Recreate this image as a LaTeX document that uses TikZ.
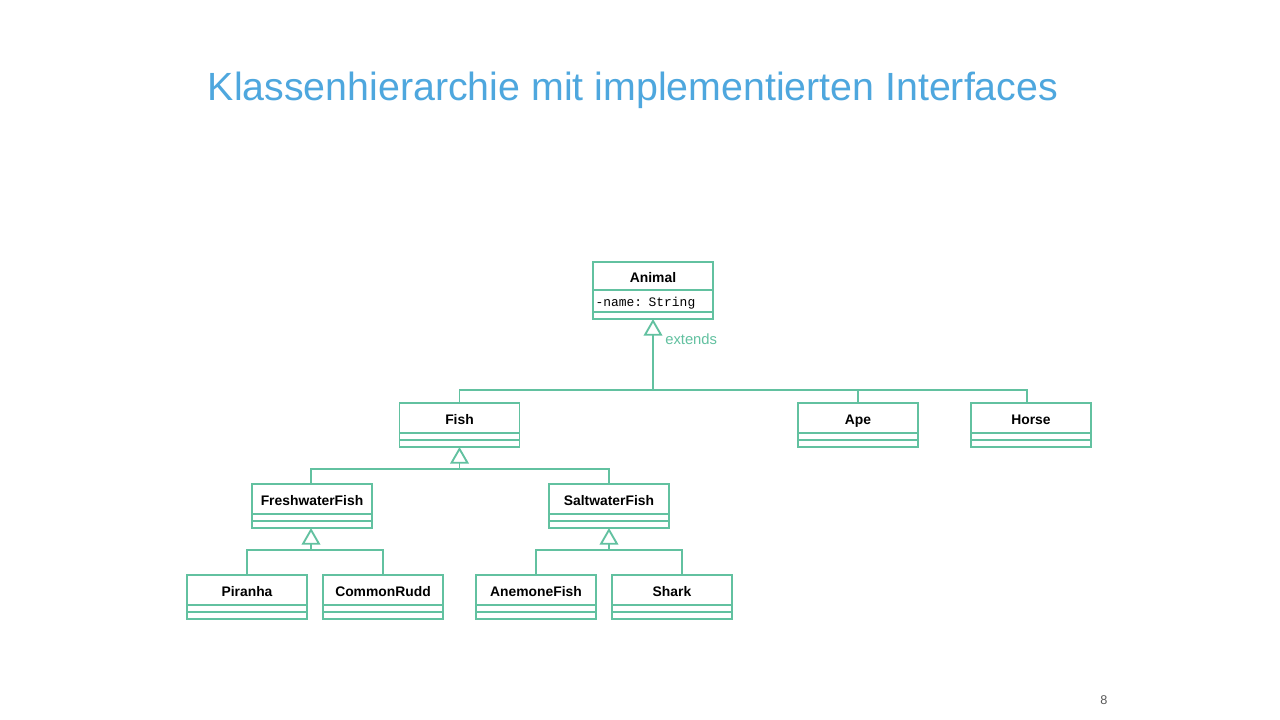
\documentclass[tikz,border=0pt]{standalone}
\usepackage{fontspec}
\setmainfont{Liberation Sans}
\setmonofont{Liberation Mono}
\usetikzlibrary{arrows.meta}
\definecolor{uml}{RGB}{98,193,160}
\definecolor{titleblue}{RGB}{78,167,222}
\definecolor{pagegray}{RGB}{90,90,90}
\newcommand\umlclass[4]{%
  \node[cls, anchor=north] (#1) at (#2,#3) {#4};
  \node[comp] (#1-a) at (#1.south) {};
  \node[comp] (#1-b) at (#1-a.south) {};}
\begin{document}
\begin{tikzpicture}[x=0.75pt, y=-0.75pt,
  cls/.style={draw=uml, fill=white, line width=1.4pt, minimum width=90pt,
    minimum height=22.5pt, inner sep=0pt, outer sep=0pt, text=black,
    text height=9.3pt, text depth=0pt, line join=miter,
    font=\bfseries\fontsize{10.4}{12}\selectfont},
  comp/.style={draw=uml, fill=white, line width=1.4pt, minimum width=90pt,
    minimum height=5.25pt, inner sep=0pt, outer sep=0pt, anchor=north},
  conn/.style={draw=uml, line width=1.4pt},
  inherit/.style={conn, -{Triangle[open, length=12.5pt, width=14pt, line width=1.4pt]}},
  lbl/.style={text=uml, font=\fontsize{11.1}{13}\selectfont, inner sep=0pt}]
\useasboundingbox (0,0) rectangle (1280,720);
\fill[white] (0,0) rectangle (1280,720);

\node[text=titleblue, font=\fontsize{29.5}{34}\selectfont, anchor=base] (title) at (633,101)
  {Klassenhierarchie mit implementierten Interfaces};

% Animal
\node[cls, anchor=north, minimum height=21pt] (animal) at (653,262) {Animal};
\node[comp, minimum height=16.5pt, font=\ttfamily\fontsize{9.7}{11}\selectfont,
  text width=86pt, align=left, text height=7.5pt, text depth=0pt] (animal-a) at (animal.south) {-name: String};
\node[comp] (animal-b) at (animal-a.south) {};

\umlclass{fish}{459.5}{403}{Fish}
\umlclass{ape}{858}{403}{Ape}
\umlclass{horse}{1031}{403}{Horse}
\umlclass{fresh}{312}{484}{FreshwaterFish}
\umlclass{salt}{609}{484}{SaltwaterFish}
\umlclass{piranha}{247}{575}{Piranha}
\umlclass{rudd}{383}{575}{CommonRudd}
\umlclass{anemone}{536}{575}{AnemoneFish}
\umlclass{shark}{672}{575}{Shark}

% Animal hierarchy
\coordinate (jA) at (653,390);
\draw[inherit] (jA) -- (animal-b.south);
\draw[conn] (fish.north) |- (jA) -| (ape.north);
\draw[conn] (jA) -| ([xshift=-3pt]horse.north);
\node[lbl, anchor=west] (ext) at (665,339) {extends};

% Fish hierarchy
\coordinate (jF) at (459.5,469);
\draw[inherit] (jF) -- (fish-b.south);
\draw[conn] ([xshift=-0.75pt]fresh.north) |- (jF) -| (salt.north);

% Freshwater hierarchy
\coordinate (jW) at (311,550);
\draw[inherit] (jW) -- ([xshift=-0.75pt]fresh-b.south);
\draw[conn] (piranha.north) |- (jW) -| (rudd.north);

% Saltwater hierarchy
\coordinate (jS) at (609,550);
\draw[inherit] (jS) -- (salt-b.south);
\draw[conn] (anemone.north) |- (jS) -| ([xshift=7.5pt]shark.north);

\node[text=pagegray, font=\fontsize{9.5}{11}\selectfont, anchor=base] (page) at (1104,704) {8};
\end{tikzpicture}
\end{document}
